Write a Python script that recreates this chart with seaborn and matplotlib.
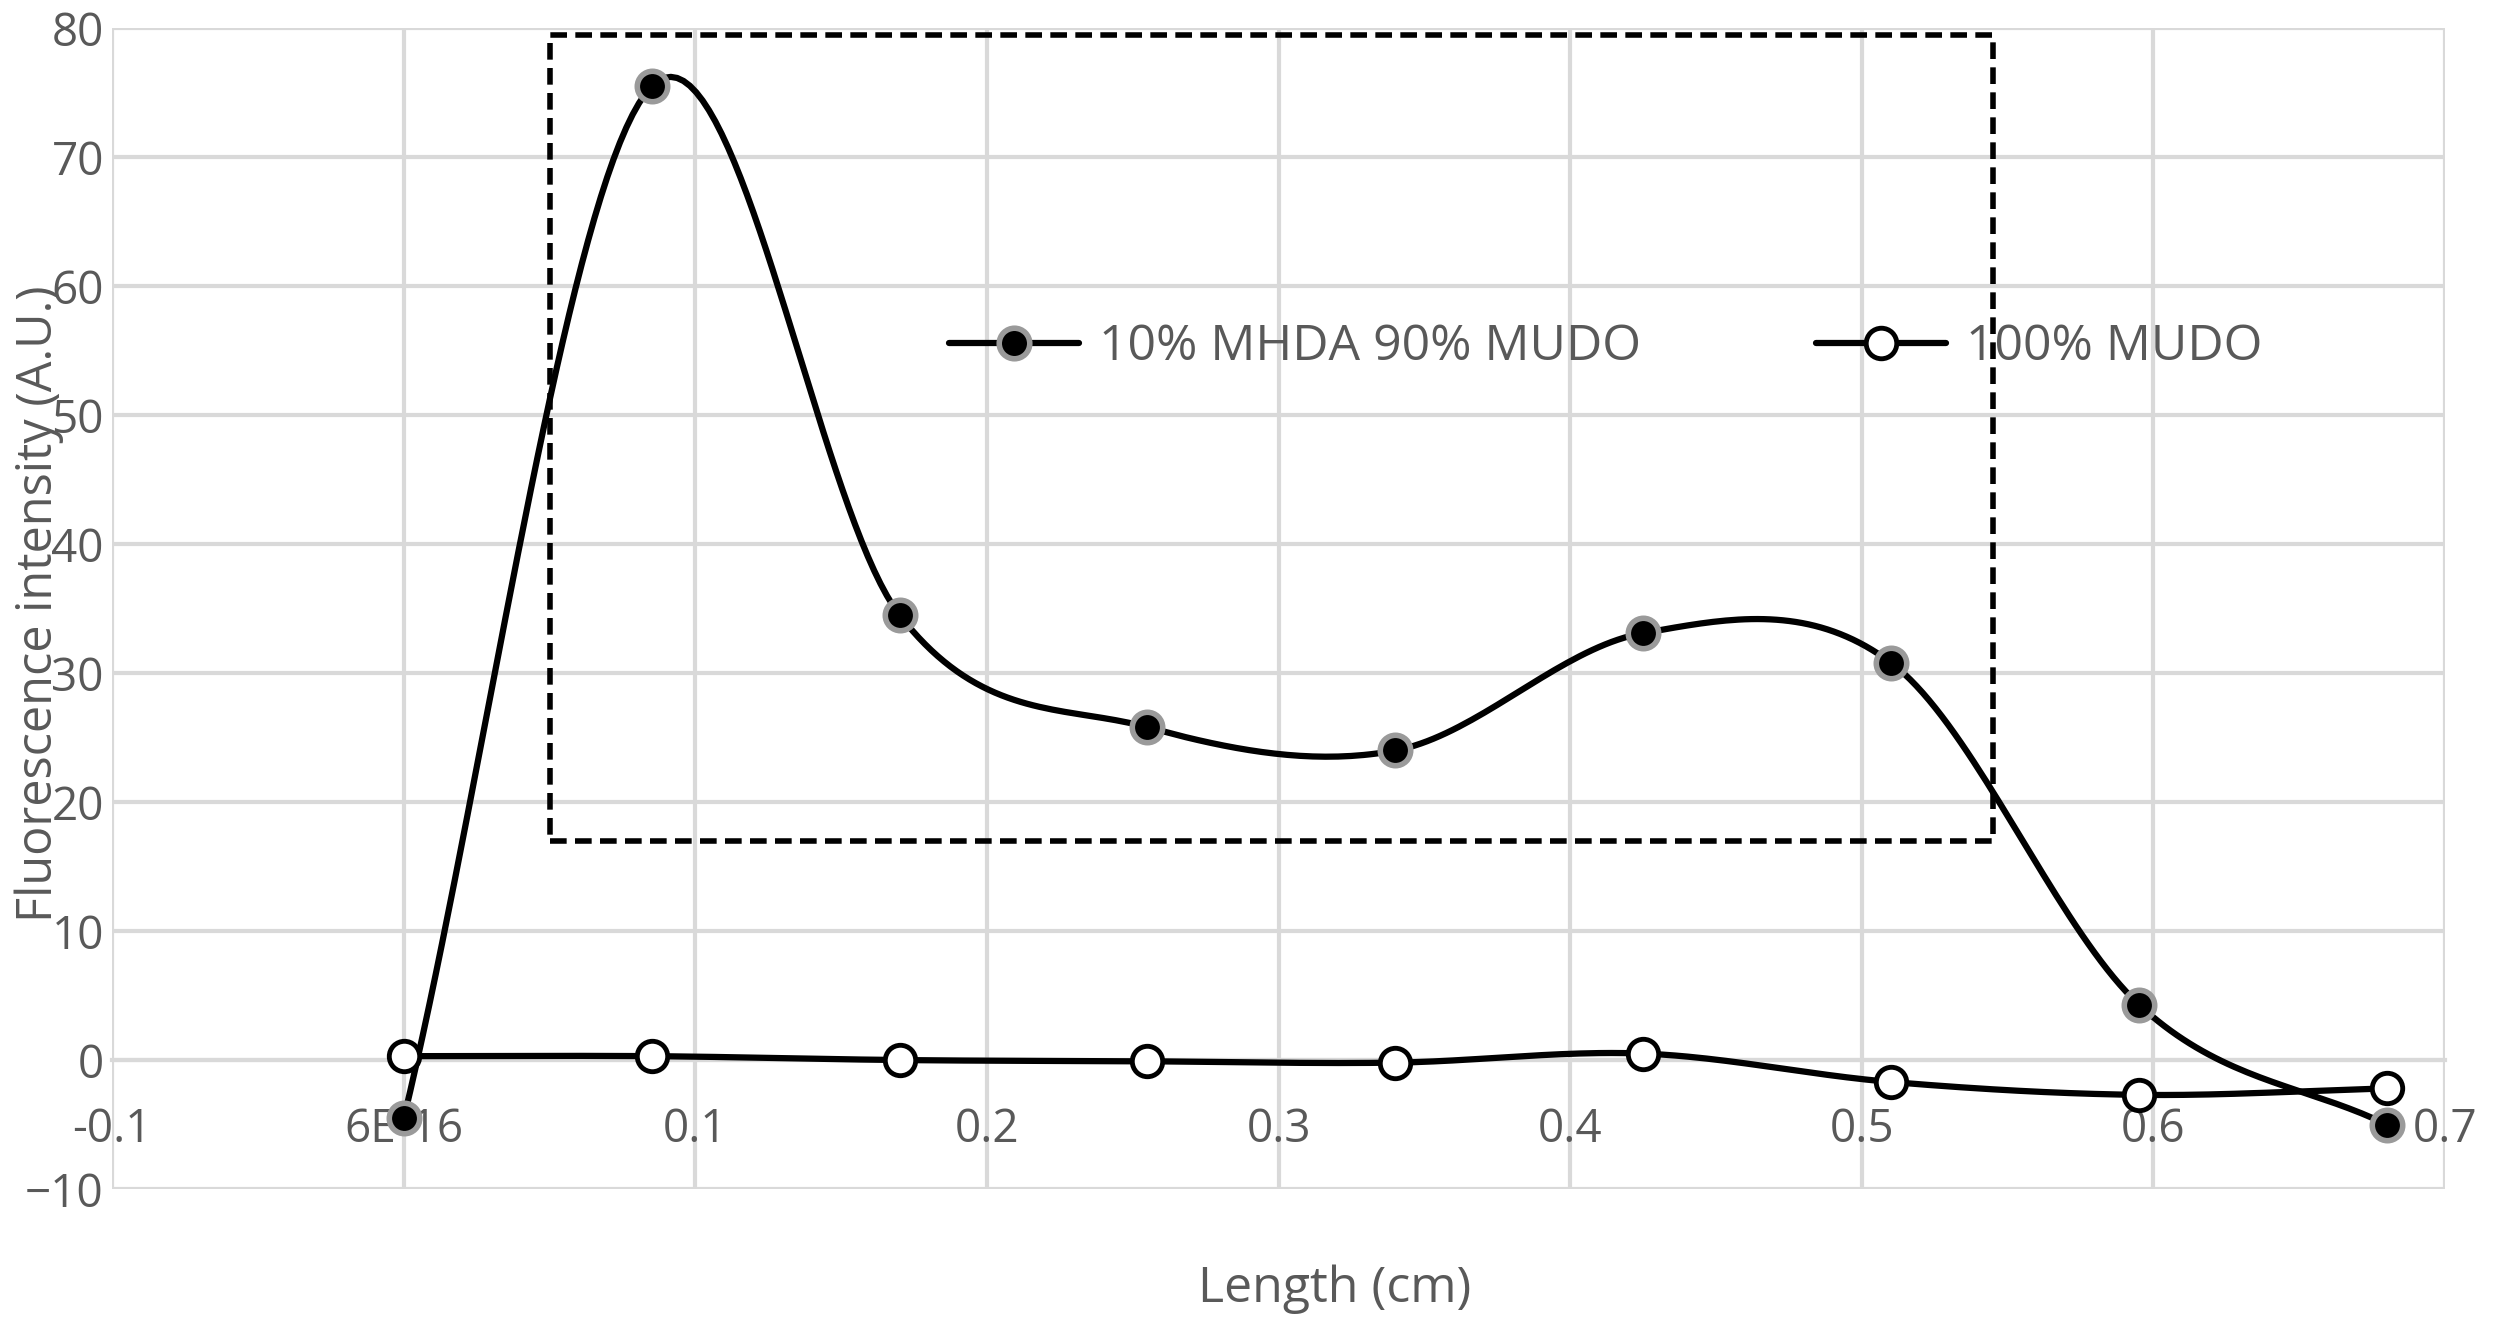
import matplotlib
matplotlib.use("Agg")
import matplotlib.pyplot as plt
from matplotlib.lines import Line2D
from matplotlib.patches import Rectangle
import numpy as np
import pandas as pd
import seaborn as sns

LENGTH_CM = [0.0, 0.085, 0.17, 0.255, 0.34, 0.425, 0.51, 0.595, 0.68]
MHDA_10 = [-4.5, 75.5, 34.5, 25.8, 24.0, 33.1, 30.8, 4.3, -5.0]
MUDO_100 = [0.3, 0.3, 0.0, -0.1, -0.2, 0.5, -1.7, -2.7, -2.2]
X_TICKS = [-0.1, 0.0, 0.1, 0.2, 0.3, 0.4, 0.5, 0.6, 0.7]
X_TICK_LABELS = ["-0.1", "6E-16", "0.1", "0.2", "0.3", "0.4", "0.5", "0.6", "0.7"]
Y_TICKS = list(range(-10, 81, 10))
LABEL_A = "10% MHDA 90% MUDO"
LABEL_B = "100% MUDO"


def smooth(x, y, n=40):
    # Excel-style smoothed line: Catmull-Rom through the points
    x = np.asarray(x, float)
    y = np.asarray(y, float)
    px = np.concatenate([[2 * x[0] - x[1]], x, [2 * x[-1] - x[-2]]])
    py = np.concatenate([[2 * y[0] - y[1]], y, [2 * y[-1] - y[-2]]])
    xs, ys = [], []
    t = np.linspace(0, 1, n)
    for i in range(1, len(px) - 2):
        for p, out in ((px, xs), (py, ys)):
            p0, p1, p2, p3 = p[i - 1], p[i], p[i + 1], p[i + 2]
            out.extend(0.5 * (2 * p1 + (-p0 + p2) * t
                              + (2 * p0 - 5 * p1 + 4 * p2 - p3) * t ** 2
                              + (-p0 + 3 * p1 - 3 * p2 + p3) * t ** 3))
    return xs, ys


sns.set_theme(style="white")
plt.rcParams["font.family"] = ["Open Sans", "DejaVu Sans"]

fig, ax = plt.subplots(figsize=(24.95, 13.42), dpi=100)
fig.subplots_adjust(left=0.045, right=0.98, top=0.979, bottom=0.114)

ax_grid = "#d9d9d9"
for name, vals in ((LABEL_A, MHDA_10), (LABEL_B, MUDO_100)):
    sx, sy = smooth(LENGTH_CM, vals)
    sns.lineplot(x=sx, y=sy, ax=ax, color="black", lw=4.5, sort=False, zorder=3)

pts_a = pd.DataFrame({"x": LENGTH_CM, "y": MHDA_10})
pts_b = pd.DataFrame({"x": LENGTH_CM, "y": MUDO_100})
sns.scatterplot(data=pts_a, x="x", y="y", ax=ax, s=480, color="black",
                edgecolor="#9a9a9a", linewidth=4, zorder=4)
sns.scatterplot(data=pts_b, x="x", y="y", ax=ax, s=480, color="white",
                edgecolor="black", linewidth=3.5, zorder=4)

ax.add_patch(Rectangle((0.05, 17), 0.495, 62.5, fill=False, ls=(0, (3, 1.5)),
                       lw=4, edgecolor="black", zorder=2))

ax.set_xlim(-0.1, 0.7)
ax.set_ylim(-10, 80)
ax.set_xticks(X_TICKS)
ax.set_xticklabels(X_TICK_LABELS)
ax.set_yticks(Y_TICKS)
ax.grid(True, color=ax_grid, lw=3)
for s in ("top", "right", "left"):
    ax.spines[s].set_visible(False)
ax.spines["bottom"].set_position(("data", 0))
ax.spines["bottom"].set_color(ax_grid)
ax.spines["bottom"].set_linewidth(3)
ax.tick_params(length=0, labelsize=33, labelcolor="#595959")
ax.tick_params(axis="x", pad=34)
ax.tick_params(axis="y", pad=6)
ax.set_xlabel("")
ax.set_ylabel("")
fig.text(0.006, 0.55, "Fluorescence intensity (A.U.)", fontsize=35,
         color="#595959", rotation=90, va="center", ha="left")
fig.text(0.535, 0.03, "Length (cm)", fontsize=36, color="#595959", ha="center")

handles = [
    Line2D([], [], color="black", lw=4.5, marker="o", ms=22, mfc="black",
           mec="#9a9a9a", mew=4),
    Line2D([], [], color="black", lw=4.5, marker="o", ms=22, mfc="white",
           mec="black", mew=3.5),
]
ax.legend(handles, [LABEL_A, LABEL_B], ncol=2, frameon=False, fontsize=36,
          labelcolor="#595959", loc="center", bbox_to_anchor=(0.64, 0.725),
          handlelength=2.6, columnspacing=3.5, handletextpad=0.4)

fig.savefig("out.png", dpi=100)
